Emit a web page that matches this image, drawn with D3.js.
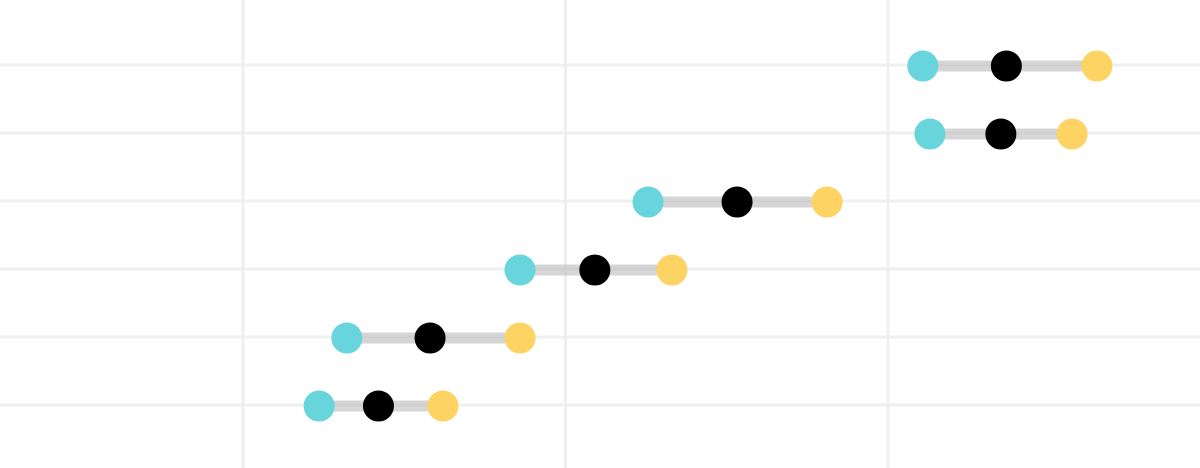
<!DOCTYPE html>
<html>
<head>
<meta charset="utf-8">
<script src="https://cdn.jsdelivr.net/npm/d3@7"></script>
<style>
  body { margin: 0; background: #fff; }
  svg { display: block; }
</style>
</head>
<body>
<svg id="canvas" width="1200" height="468"></svg>
<script>
// rows, top to bottom
const rows = ["A", "B", "C", "D", "E", "F"];
const lowVals = [31.08, 31.3, 22.56, 18.59, 13.22, 12.36];
const midVals = [33.67, 33.5, 25.32, 20.91, 15.8, 14.2];
const highVals = [36.48, 35.71, 28.11, 23.3, 18.59, 16.2];
const gridTicks = [10, 20, 30];

const width = 1200, height = 468;

let canvas = d3.select("#canvas");

let x = d3.scaleLinear().domain([0, 40]).range([-79.5, 1210.5]);
let y = d3.scalePoint().domain(rows).range([66, 406]);

let data = rows.map((r, i) => ({ row: r, low: lowVals[i], mid: midVals[i], high: highVals[i] }));

// grid
canvas.append("g")
    .selectAll("line")
    .data(gridTicks)
    .enter()
    .append("line")
    .attr("x1", (d) => x(d))
    .attr("x2", (d) => x(d))
    .attr("y1", 0)
    .attr("y2", height)
    .attr("stroke", "#efefef")
    .attr("stroke-width", 3);

canvas.append("g")
    .selectAll("line")
    .data(rows)
    .enter()
    .append("line")
    .attr("x1", 0)
    .attr("x2", width)
    .attr("y1", (d) => y(d) - 1)
    .attr("y2", (d) => y(d) - 1)
    .attr("stroke", "#efefef")
    .attr("stroke-width", 3);

// range bars
canvas.append("g")
    .selectAll("line")
    .data(data)
    .enter()
    .append("line")
    .attr("x1", (d) => x(d.low))
    .attr("x2", (d) => x(d.high))
    .attr("y1", (d) => y(d.row))
    .attr("y2", (d) => y(d.row))
    .attr("stroke", "#bbbbbb")
    .attr("stroke-opacity", 0.6)
    .attr("stroke-width", 11);

let dots = [
  { key: "low", color: "#68d5dc" },
  { key: "mid", color: "#000000" },
  { key: "high", color: "#fdd363" }
];

dots.forEach((s) => {
  canvas.append("g")
      .selectAll("circle")
      .data(data)
      .enter()
      .append("circle")
      .attr("cx", (d) => x(d[s.key]))
      .attr("cy", (d) => y(d.row))
      .attr("r", 15.5)
      .attr("fill", s.color);
});
</script>
</body>
</html>
